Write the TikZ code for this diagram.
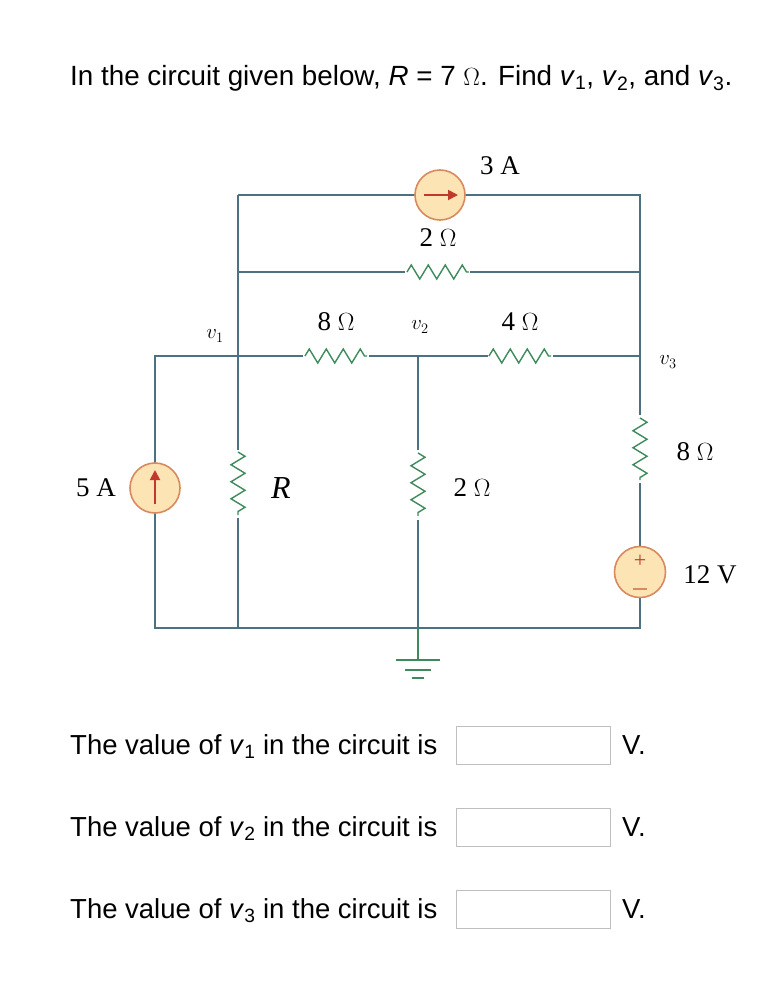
\documentclass[tikz,border=0pt]{standalone}
\usepackage{fontspec}
\setmainfont{Liberation Serif}
\newfontfamily\sans{Liberation Sans}
\usetikzlibrary{decorations.pathmorphing,arrows.meta}
\definecolor{wire}{HTML}{4C7180}
\definecolor{res}{HTML}{3F8A5C}
\definecolor{srcfill}{HTML}{FCE4B4}
\definecolor{srcdraw}{HTML}{D88A5E}
\definecolor{arr}{HTML}{C0392B}
\begin{document}
\begin{tikzpicture}[x=1pt,y=-1pt,
  w/.style={draw=wire,line width=1.4pt},
  r/.style={draw=res,line width=1.4pt,decorate,decoration={zigzag,segment length=17,amplitude=7}},
  src/.style={circle,fill=srcfill,draw=srcdraw,line width=1.6pt,minimum size=50pt,inner sep=0pt},
  lab/.style={font=\fontsize{27}{27}\selectfont},
  txt/.style={font=\sans\fontsize{27.5}{27.5}\selectfont,anchor=base west,inner sep=0pt},
  box/.style={draw=black!25,line width=0.8pt,minimum width=154pt,minimum height=38pt,anchor=west}]
\useasboundingbox (0,0) rectangle (766,990);
\node[txt,font=\sans\fontsize{27.8}{27.8}\selectfont] (title) at (70,85) {In the circuit given below, \textit{R} = 7 $\Omega$. Find \textit{v}\textsubscript{1}, \textit{v}\textsubscript{2}, and \textit{v}\textsubscript{3}.};
% coordinates
\coordinate (tl) at (238,195); \coordinate (tr) at (640,195);
\coordinate (ml) at (238,272); \coordinate (mr) at (640,272);
\coordinate (a) at (155,356); \coordinate (n1) at (238,356); \coordinate (n2) at (418,356); \coordinate (n3) at (640,356);
\coordinate (bl) at (155,628); \coordinate (b1) at (238,628); \coordinate (b2) at (418,628); \coordinate (br) at (640,628);
\coordinate (g) at (418,660);
% wires
\draw[w] (tl) -- (tr) -- (br) -- (bl) -- (a) -- (n3);
\draw[w] (tl) -- (b1);
\draw[w] (ml) -- (mr);
\draw[w] (n2) -- (b2);
\draw[draw=res,line width=1.4pt] (b2) -- (g);
% resistors
\fill[white] (405,262) rectangle (470,282);
\draw[r] (407,272) -- (469,272);
\fill[white] (303,346) rectangle (369,366);
\draw[r] (305,356) -- (367,356);
\fill[white] (488,346) rectangle (553,366);
\draw[r] (489,356) -- (551,356);
\fill[white] (228,450) rectangle (248,518);
\draw[r] (238,452) -- (238,515);
\fill[white] (408,450) rectangle (428,520);
\draw[r] (418,453) -- (418,516);
\fill[white] (630,415) rectangle (650,483);
\draw[r] (640,418) -- (640,480);
% sources
\node[src] (s3) at (440,195) {};
\draw[arr,line width=1.8pt,-{Triangle[length=10pt,width=10pt]}] ([xshift=-16pt]s3.center) -- ([xshift=18pt]s3.center);
\node[src] (s5) at (155,488) {};
\draw[arr,line width=1.8pt,-{Triangle[length=10pt,width=10pt]}] ([yshift=-16pt]s5.center) -- ([yshift=18pt]s5.center);
\node[src,minimum size=51pt] (sv) at (640,572) {};
\node[text=arr,font=\fontsize{22}{22}\selectfont,inner sep=0pt] (plus) at (640,561) {+};
\draw[draw=srcdraw,line width=1.6pt] (633,589) -- (647,589);
% ground
\draw[draw=res,line width=1.4pt] (396,660) -- (440,660) (405,670) -- (431,670) (412,678) -- (424,678);
% labels
\node[lab] (l3a) at (500,166) {3 A};
\node[lab] (l2a) at (438,238) {2 $\Omega$};
\node[lab] (l8a) at (336,322) {8 $\Omega$};
\node[lab] (l4a) at (520,322) {4 $\Omega$};
\node[lab,font=\fontsize{22}{22}\selectfont] (v1) at (215,336) {$v_1$};
\node[lab,font=\fontsize{22}{22}\selectfont] (v2) at (420,327) {$v_2$};
\node[lab,font=\fontsize{22}{22}\selectfont] (v3) at (668,362) {$v_3$};
\node[lab] (l5a) at (96,488) {5 A};
\node[lab,font=\fontsize{32}{32}\selectfont\itshape] (lR) at (281,488) {R};
\node[lab] (l2b) at (472,488) {2 $\Omega$};
\node[lab] (l8b) at (695,452) {8 $\Omega$};
\node[lab] (l12) at (710,575) {12 V};
% questions
\foreach \y/\i in {745/1,827/2,909/3}{
  \node[txt] (q\i) at (70,\y+9) {The value of \textit{v}\textsubscript{\i} in the circuit is};
  \node[box] (b\i) at (456,\y) {};
  \node[txt] (u\i) at (622,\y+9) {V.};
}
\end{tikzpicture}
\end{document}
